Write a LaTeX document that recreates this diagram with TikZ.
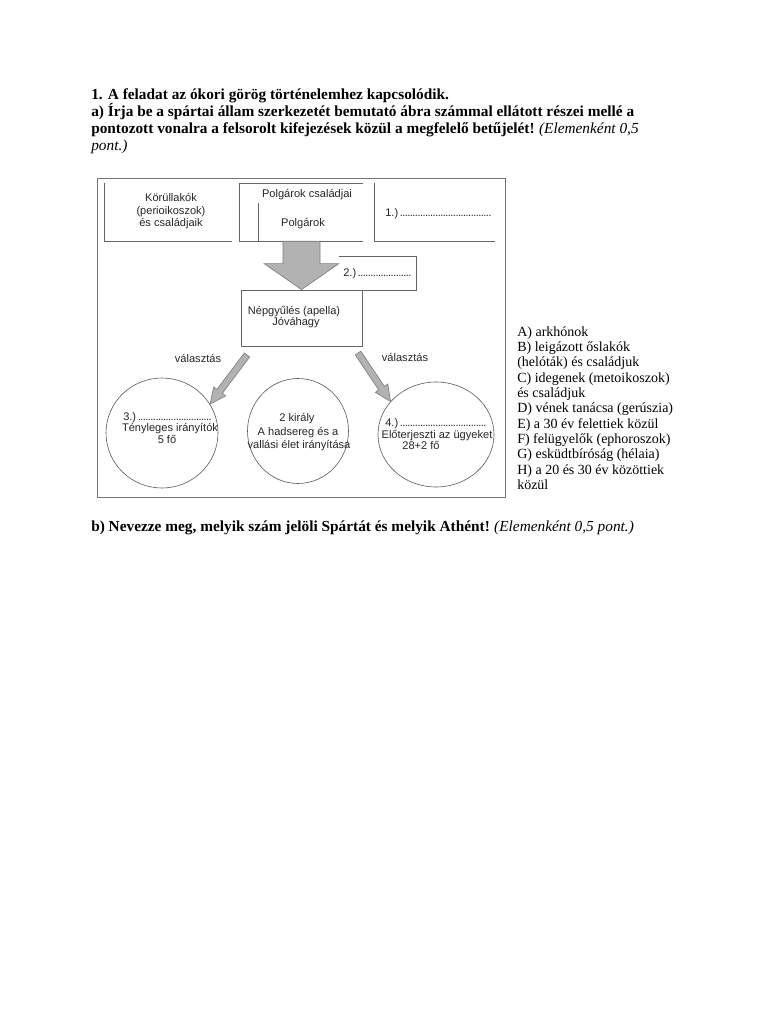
\documentclass[tikz,border=0pt]{standalone}
\usepackage{fontspec}
\setmainfont{Liberation Serif}
\newfontfamily\arialf{Liberation Sans}
\usetikzlibrary{calc,shapes.geometric}
\newcommand\dts[1]{\leavevmode\hbox to #1{\leaders\hbox to 1.9pt{\hss.\hss}\hfill}}
\newcommand\blkarrow[6]{%
  \coordinate (#6h) at ($(#2)!#5!(#1)$);
  \filldraw[blockarrow] ($(#1)!#3!90:(#2)$) -- ($(#6h)!#3!-90:(#1)$) -- ($(#6h)!#4!-90:(#1)$) -- (#2) -- ($(#6h)!#4!90:(#1)$) -- ($(#6h)!#3!90:(#1)$) -- ($(#1)!#3!-90:(#2)$) -- cycle;}
\begin{document}
\begin{tikzpicture}[x=0.75pt,y=-0.75pt,
  hd/.style={anchor=base west, inner sep=0, font=\fontsize{11.5}{12.75}\selectfont\bfseries},
  hdi/.style={anchor=base west, inner sep=0, font=\fontsize{11.5}{12.75}\selectfont\itshape},
  lst/.style={anchor=base west, inner sep=0, font=\fontsize{10.5}{11.5}\selectfont},
  dg/.style={anchor=base, inner sep=0, font=\arialf\fontsize{8.3}{9.3}\selectfont, text=black!85},
  dgw/.style={dg, anchor=base west},
  edge/.style={draw=black!60, line width=0.6pt},
  ell/.style={ellipse, draw=black!65, line width=0.45pt, inner sep=0},
  blockarrow/.style={fill=black!30, draw=black!50, line width=0.5pt, line join=miter},
]
\fill[white] (0,0) rectangle (768,1024);
\useasboundingbox (0,0) rectangle (768,1024);

% header
\node[hd] (h1) at (91,99) {1. A feladat az ókori görög történelemhez kapcsolódik.};
\node[hd] (h2) at (91,116) {a) Írja be a spártai állam szerkezetét bemutató ábra számmal ellátott részei mellé a};
\node[hd] (h3) at (91,133) {pontozott vonalra a felsorolt kifejezések közül a megfelelő betűjelét!};
\node[hdi] (h3i) at (h3.base east) {\ (Elemenként 0,5};
\node[hdi] (h4) at (91,150) {pont.)};

% frame
\node[draw=black!55, line width=0.6pt, minimum width=306pt, minimum height=239.25pt, inner sep=0] (frame) at (301,337.5) {};

% top boxes
\node[inner sep=0, minimum width=95.25pt, minimum height=43.5pt] (kor) at (168.5,212) {};
\draw[edge] (kor.north west) -- (kor.south west) -- (kor.south east);
\node[inner sep=0, minimum width=92.25pt, minimum height=42.75pt] (pol) at (301.5,212.5) {};
\draw[edge] (pol.north east) -- (pol.north west) -- (pol.south west) -- (pol.south east);
\coordinate (pin) at ($(pol.south west)+(19,0)$);
\draw[edge] (pin) -- ++(0,-38);
\node[inner sep=0, minimum width=90pt, minimum height=43.5pt] (one) at (435,212) {};
\draw[edge] (one.north west) -- (one.south west) -- (one.south east);

% Nepgyules box
\node[draw=black!60, line width=0.6pt, inner sep=0, minimum width=90.75pt, minimum height=42pt] (nep) at (301.5,318) {};

% big arrow
\blkarrow{pol.south}{nep.north}{13.9pt}{28pt}{19.5pt}{ba}

% box 2
\node[inner sep=0, minimum width=57.75pt, minimum height=24.75pt] (two) at (377.5,273.5) {};
\draw[edge] (two.north west) -- (two.north east) -- (two.south east) -- (two.south west);

% ellipses
\node[ell, minimum width=84pt, minimum height=82.5pt] (c1) at (162,433) {};
\node[ell, minimum width=75.75pt, minimum height=78.75pt] (c2) at (298,431) {};
\node[ell, minimum width=87pt, minimum height=78.75pt] (c3) at (436,434.5) {};

% small arrows
\coordinate (la) at (247,355);
\coordinate (ra) at (358,353);
\blkarrow{la}{c1.31}{2.5pt}{5.6pt}{12pt}{sa}
\blkarrow{ra}{c3.144}{2.5pt}{5.6pt}{12pt}{sb}

% diagram texts
\node[dg] (t1) at (171,201.5) {Körüllakók};
\node[dg] (t2) at (171,214.5) {(perioikoszok)};
\node[dg] (t3) at (171,226.5) {és családjaik};
\node[dg] (t4) at (307,197.5) {Polgárok családjai};
\node[dg] (t5) at (303,226.5) {Polgárok};
\node[dgw] (t6) at (385,216.5) {1.)\,\dts{69pt}};
\node[dgw] (t7) at (343,276.5) {2.)\,\dts{41pt}};
\node[dg] (t8) at (294,314.5) {Népgyűlés (apella)};
\node[dg] (t9) at (296,325.5) {Jóváhagy};
\node[dg] (v1) at (198,362.5) {választás};
\node[dg] (v2) at (405,361.5) {választás};
\node[dgw] (t10) at (123,420.5) {3.)\,\dts{56pt}};
\node[dg] (t11) at (170,431.5) {Tényleges irányítók};
\node[dg] (t12) at (167,443.5) {5 fő};
\node[dg] (t13) at (297,421.5) {2 király};
\node[dg] (t14) at (298,435.5) {A hadsereg és a};
\node[dg] (t15) at (299,448.5) {vallási élet irányítása};
\node[dgw] (t16) at (385,426.5) {4.)\,\dts{65pt}};
\node[dg] (t17) at (437,438.5) {Előterjeszti az ügyeket};
\node[dg] (t18) at (421,449.5) {28+2 fő};

% list
\node[lst] (L1) at (517,336) {A) arkhónok};
\node[lst] (L2) at (517,351) {B) leigázott őslakók};
\node[lst] (L3) at (517,366.5) {(helóták) és családjuk};
\node[lst] (L4) at (517,382) {C) idegenek (metoikoszok)};
\node[lst] (L5) at (517,397) {és családjuk};
\node[lst] (L6) at (517,412.5) {D) vének tanácsa (gerúszia)};
\node[lst] (L7) at (517,428) {E) a 30 év felettiek közül};
\node[lst] (L8) at (517,443) {F) felügyelők (ephoroszok)};
\node[lst] (L9) at (517,458.5) {G) esküdtbíróság (hélaia)};
\node[lst] (L10) at (517,474) {H) a 20 és 30 év közöttiek};
\node[lst] (L11) at (517,489) {közül};

% part b
\node[hd] (b1) at (91,531) {b) Nevezze meg, melyik szám jelöli Spártát és melyik Athént!};
\node[hdi] (b1i) at (b1.base east) {\ (Elemenként 0,5 pont.)};
\end{tikzpicture}
\end{document}
